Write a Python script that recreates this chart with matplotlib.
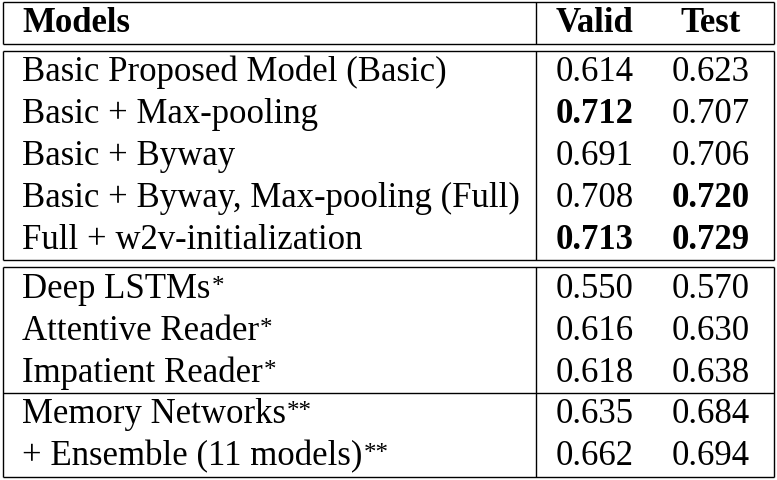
import matplotlib
matplotlib.use("Agg")
import matplotlib.pyplot as plt

plt.rcParams['font.family'] = ['Liberation Serif', 'DejaVu Serif']

# Table content
headers = ['Models', 'Valid', 'Test']
models = [
    'Basic Proposed Model (Basic)',
    'Basic + Max-pooling',
    'Basic + Byway',
    'Basic + Byway, Max-pooling (Full)',
    'Full + w2v-initialization',
    'Deep LSTMs',
    'Attentive Reader',
    'Impatient Reader',
    'Memory Networks',
    '+ Ensemble (11 models)',
]
marks = ['', '', '', '', '', '*', '*', '*', '**', '**']
valid = [0.614, 0.712, 0.691, 0.708, 0.713, 0.550, 0.616, 0.618, 0.635, 0.662]
test = [0.623, 0.707, 0.706, 0.720, 0.729, 0.570, 0.630, 0.638, 0.684, 0.694]
valid_bold = [False, True, False, False, True, False, False, False, False, False]
test_bold = [False, False, False, True, True, False, False, False, False, False]
group_sizes = [5, 3, 2]
double_rule_before = [True, True, False]

# Layout (pixels)
W, H = 777, 481
FS = 25
PITCH = 41.9
GAP = 7
TOP = 3
X_LEFT, X_MID, X_RIGHT = 2.7, 535.7, 774.3
X_TEXT = 22
X_VALID, X_TEST = 595, 711

fig = plt.figure(figsize=(W / 100, H / 100), dpi=100)
ax = fig.add_axes([0, 0, 1, 1])
ax.set_xlim(0, W)
ax.set_ylim(H, 0)
ax.axis('off')
renderer = fig.canvas.get_renderer()

LW = 1.0
segments = []  # vertical rule segments (y0, y1)

# header row
y = TOP
ax.hlines(y, X_LEFT, X_RIGHT, color='black', lw=LW)
base = y + 0.7 * PITCH
ax.text(X_TEXT, base, headers[0], fontsize=FS, fontweight='bold', va='baseline', ha='left')
ax.text(X_VALID, base, headers[1], fontsize=FS, fontweight='bold', va='baseline', ha='center')
ax.text(X_TEST, base, headers[2], fontsize=FS, fontweight='bold', va='baseline', ha='center')
seg_start = y
y += PITCH

i = 0
for g, n in enumerate(group_sizes):
    ax.hlines(y, X_LEFT, X_RIGHT, color='black', lw=LW)
    if double_rule_before[g]:
        segments.append((seg_start, y))
        y += GAP
        ax.hlines(y, X_LEFT, X_RIGHT, color='black', lw=LW)
        seg_start = y
    for _ in range(n):
        base = y + 0.7 * PITCH
        t = ax.text(X_TEXT, base, models[i], fontsize=FS, va='baseline', ha='left')
        if marks[i]:
            # superscript marks placed right after the measured model name
            bb = t.get_window_extent(renderer=renderer)
            x_end = ax.transData.inverted().transform((bb.x1, bb.y0))[0]
            ax.text(x_end + 1, base - 5, marks[i], fontsize=FS * 0.72,
                    va='baseline', ha='left')
        ax.text(X_VALID, base, f'{valid[i]:.3f}', fontsize=FS, va='baseline', ha='center',
                fontweight='bold' if valid_bold[i] else 'normal')
        ax.text(X_TEST, base, f'{test[i]:.3f}', fontsize=FS, va='baseline', ha='center',
                fontweight='bold' if test_bold[i] else 'normal')
        y += PITCH
        i += 1

ax.hlines(y, X_LEFT, X_RIGHT, color='black', lw=LW)
segments.append((seg_start, y))

for y0, y1 in segments:
    ax.vlines([X_LEFT, X_MID, X_RIGHT], y0, y1, color='black', lw=LW)

fig.savefig('out.png', dpi=100)
